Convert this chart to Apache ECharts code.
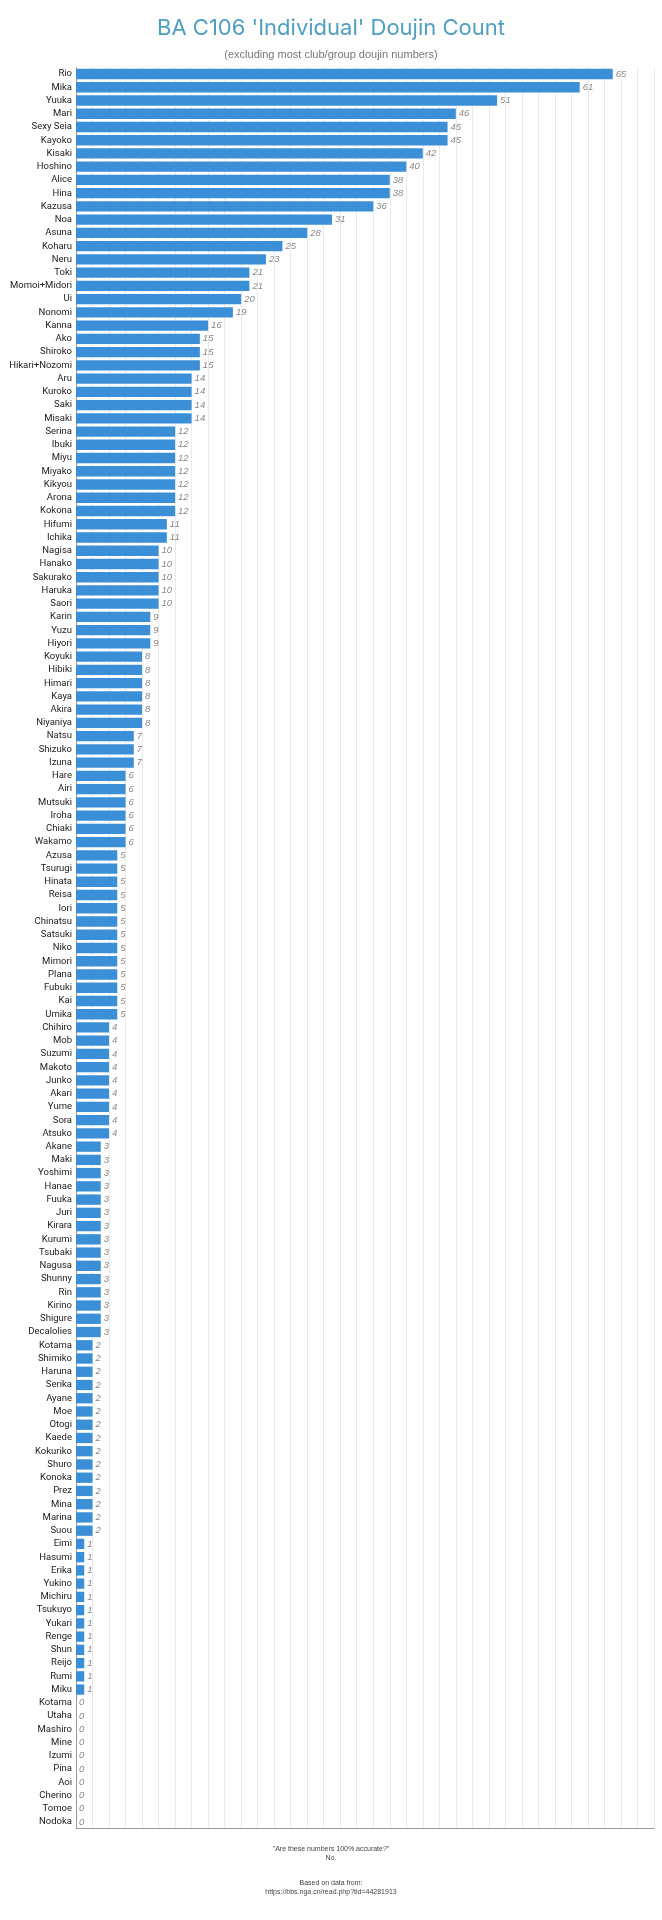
<!DOCTYPE html>
<html>
<head>
<meta charset="utf-8">
<script src="https://cdn.jsdelivr.net/npm/echarts@6/dist/echarts.min.js"></script>
<style>body{margin:0;background:#fff}#main{width:662px;height:1920px}</style>
</head>
<body>
<div id="main"></div>
<script>
var names = ["Rio","Mika","Yuuka","Mari","Sexy Seia","Kayoko","Kisaki","Hoshino","Alice","Hina","Kazusa","Noa","Asuna","Koharu","Neru","Toki","Momoi+Midori","Ui","Nonomi","Kanna","Ako","Shiroko","Hikari+Nozomi","Aru","Kuroko","Saki","Misaki","Serina","Ibuki","Miyu","Miyako","Kikyou","Arona","Kokona","Hifumi","Ichika","Nagisa","Hanako","Sakurako","Haruka","Saori","Karin","Yuzu","Hiyori","Koyuki","Hibiki","Himari","Kaya","Akira","Niyaniya","Natsu","Shizuko","Izuna","Hare","Airi","Mutsuki","Iroha","Chiaki","Wakamo","Azusa","Tsurugi","Hinata","Reisa","Iori","Chinatsu","Satsuki","Niko","Mimori","Plana","Fubuki","Kai","Umika","Chihiro","Mob","Suzumi","Makoto","Junko","Akari","Yume","Sora","Atsuko","Akane","Maki","Yoshimi","Hanae","Fuuka","Juri","Kirara","Kurumi","Tsubaki","Nagusa","Shunny","Rin","Kirino","Shigure","Decalolies","Kotama","Shimiko","Haruna","Serika","Ayane","Moe","Otogi","Kaede","Kokuriko","Shuro","Konoka","Prez","Mina","Marina","Suou","Eimi","Hasumi","Erika","Yukino","Michiru","Tsukuyo","Yukari","Renge","Shun","Reijo","Rumi","Miku","Kotama","Utaha","Mashiro","Mine","Izumi","Pina","Aoi","Cherino","Tomoe","Nodoka"];
var counts = [65,61,51,46,45,45,42,40,38,38,36,31,28,25,23,21,21,20,19,16,15,15,15,14,14,14,14,12,12,12,12,12,12,12,11,11,10,10,10,10,10,9,9,9,8,8,8,8,8,8,7,7,7,6,6,6,6,6,6,5,5,5,5,5,5,5,5,5,5,5,5,5,4,4,4,4,4,4,4,4,4,3,3,3,3,3,3,3,3,3,3,3,3,3,3,3,2,2,2,2,2,2,2,2,2,2,2,2,2,2,2,1,1,1,1,1,1,1,1,1,1,1,1,0,0,0,0,0,0,0,0,0,0];

var n = names.length;
var band = (1822 - 74) / (n - 1);
var chart = echarts.init(document.getElementById('main'));
chart.setOption({
  animation: false,
  title: [
    {text: "BA C106 'Individual' Doujin Count", left: 'center', top: 12,
     textStyle: {color: '#4f9fc0', fontSize: 22, fontWeight: 'normal', fontFamily: 'Inter'}},
    {text: '(excluding most club/group doujin numbers)', left: 'center', top: 44,
     textStyle: {color: '#777', fontSize: 11, fontWeight: 'normal'}},
    {text: '"Are these numbers 100% accurate?"\nNo.', left: 'center', top: 1840,
     textStyle: {color: '#444', fontSize: 7, fontWeight: 'normal', lineHeight: 9}},
    {text: 'Based on data from:\nhttps://bbs.nga.cn/read.php?tid=44281913', left: 'center', top: 1874,
     textStyle: {color: '#444', fontSize: 7, fontWeight: 'normal', lineHeight: 9}}
  ],
  grid: {left: 76, right: 8, top: 74 - band / 2, height: band * n},
  xAxis: {
    type: 'value', min: 0, max: 70, interval: 2,
    axisLabel: {show: false},
    axisLine: {show: true, lineStyle: {color: '#999'}},
    axisTick: {show: false},
    splitLine: {lineStyle: {color: '#eaeaea'}}
  },
  yAxis: {
    type: 'category', inverse: true, data: names,
    axisLabel: {interval: 0, color: '#222', fontSize: 9.5, fontFamily: 'Roboto', margin: 4},
    axisTick: {show: false},
    axisLine: {lineStyle: {color: '#999'}}
  },
  series: [{
    type: 'bar', data: counts, barWidth: '78%',
    itemStyle: {color: '#3a8fd6'},
    label: {show: true, position: 'right', distance: 3, color: '#888', fontSize: 9.5, fontStyle: 'italic'}
  }]
});
</script>
</body>
</html>
